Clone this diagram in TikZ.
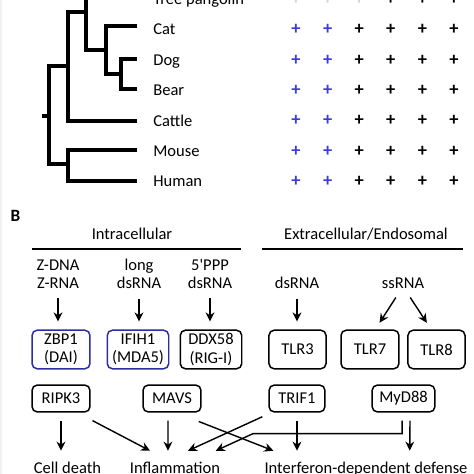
\documentclass[tikz,border=0pt]{standalone}
\usepackage{fontspec}
\setmainfont{Carlito}
\usetikzlibrary{arrows.meta,positioning}
\definecolor{recblue}{RGB}{45,45,160}
\definecolor{plusblue}{RGB}{60,60,215}
\tikzset{
  branch/.style={line width=1.9pt},
  leaf/.style={anchor=base west,inner sep=0pt},
  plusmark/.style={inner sep=0pt,font=\fontsize{10.5}{11}\selectfont\bfseries},
  sensor/.style={draw,rounded corners=3pt,line width=0.85pt,minimum width=33pt,minimum height=22pt,inner sep=0pt,align=center},
  adaptor/.style={draw,rounded corners=3pt,line width=0.85pt,minimum width=33pt,minimum height=15.3pt,inner sep=0pt},
  ligand/.style={align=center},
  outcome/.style={anchor=base,inner xsep=0pt,inner ysep=6pt,text height=6.75pt},
  arr/.style={-{Stealth[length=5.2pt,width=5pt]},line width=0.8pt}
}
\begin{document}
\begin{tikzpicture}[x=0.02cm,y=-0.02cm,font=\fontsize{9.4}{10.3}\selectfont]
  \path[use as bounding box] (0,0) rectangle (474,474);
  \clip (0,0) rectangle (474,474);
  \fill[gray!10] (0,0) rectangle (2.5,474);

  % A: tree
  \draw[branch] (42,116) -- (49,116);
  \draw[branch] (68,66) -| (49,164) -- (68,164);
  \draw[branch] (86,12) -| (68,121) -- (137,121);
  \draw[branch] (106,50) -| (86,-20);
  \draw[branch] (137,26) -| (106,74) -- (121,74);
  \draw[branch] (137,59) -| (121,89) -- (137,89);
  \draw[branch] (137,150) -| (68,181) -- (137,181);

  \foreach \sp/\name [count=\i from 0] in {Tree pangolin/pangolin,Cat/cat,Dog/dog,Bear/bear,Cattle/cattle,Mouse/mouse,Human/human}
    \node[leaf] (\name) at (153,{4.4+30.4*\i}) {\sp};

  \foreach \c in {1,2,3}
    \node[plusmark,gray!35] (p0\c) at ({264.4+31.6*\c},-0.9) {+};
  \foreach \c in {4,5,6}
    \node[plusmark] (p0\c) at ({264.4+31.6*\c},-0.9) {+};
  \foreach \r in {1,...,6} {
    \foreach \c in {1,2}
      \node[plusmark,plusblue] (p\r\c) at ({264.4+31.6*\c},{-0.9+30.4*\r}) {+};
    \foreach \c in {3,...,6}
      \node[plusmark] (p\r\c) at ({264.4+31.6*\c},{-0.9+30.4*\r}) {+};
  }

  % B: sensors
  \node[font=\fontsize{9.8}{11}\selectfont\bfseries] (panelB) at (15.5,216) {B};
  \node (intra) at (132,234) {Intracellular};
  \node (extra) at (366,234) {Extracellular/Endosomal};
  \draw[line width=0.8pt] (32,249) -- (241,249);
  \draw[line width=0.8pt] (262,249) -- (463,249);

  \node[ligand] (zdna) at (58,274) {Z-DNA\\Z-RNA};
  \node[ligand] (longds) at (139,274) {long\\dsRNA};
  \node[ligand] (pppds) at (210,274) {5\textquotesingle PPP\\dsRNA};
  \node (dsrna) at (297,283) {dsRNA};
  \node (ssrna) at (403,283) {ssRNA};

  \node[sensor,draw=recblue] (zbp1) at (61,349.5) {ZBP1\\(DAI)};
  \node[sensor,draw=recblue,minimum width=35pt] (ifih1) at (138,349.5) {IFIH1\\(MDA5)};
  \node[sensor,minimum width=35pt] (ddx58) at (211,349.5) {DDX58\\(RIG-I)};
  \node[sensor,minimum width=32.5pt] (tlr3) at (297.5,349.5) {TLR3};
  \node[sensor] (tlr7) at (370,349.5) {TLR7};
  \node[sensor,minimum width=32.5pt] (tlr8) at (436.5,349.5) {TLR8};

  \node[adaptor] (ripk3) at (61,398.5) {RIPK3};
  \node[adaptor] (mavs) at (172,398.5) {MAVS};
  \node[adaptor,minimum width=31.8pt] (trif) at (297,398.5) {TRIF1};
  \node[adaptor,minimum width=35.7pt] (myd88) at (403.5,398.5) {MyD88};

  \node[outcome] (death) at (67.5,473.5) {Cell death};
  \node[outcome] (inflam) at (175,473.5) {Inflammation};
  \node[outcome] (ifn) at (366,473.5) {Interferon-dependent defense};

  \foreach \a/\b in {zdna/zbp1,longds/ifih1,pppds/ddx58,dsrna/tlr3}
    \draw[arr,shorten <=2pt,shorten >=4.5pt] (\a.south) -- (\a.south |- \b.north);
  \draw[arr,shorten <=2pt,shorten >=4.5pt] ([xshift=-3pt]ssrna.south) -- ([xshift=3pt]tlr7.north);
  \draw[arr,shorten <=2pt,shorten >=4.5pt] ([xshift=3pt]ssrna.south) -- ([xshift=-3pt]tlr8.north);

  \draw[arr] ([yshift=-4.5pt]ripk3.south) -- (ripk3.south |- death.north);
  \draw[arr] ([shift={(1pt,-4.5pt)}]ripk3.south east) -- ([xshift=-14.2pt]inflam.north);
  \draw[arr] ([shift={(-2.3pt,-4.5pt)}]mavs.south) -- ([xshift=-4pt]inflam.north);
  \draw[arr] ([shift={(-1.7pt,-5pt)}]mavs.south east) -- ([xshift=-52.7pt]ifn.north);
  \draw[arr] ([shift={(-3.4pt,-2.3pt)}]trif.south west) -- ([xshift=7.4pt]inflam.north);
  \draw[arr] ([yshift=-4.5pt]trif.south) -- (trif.south |- ifn.north);
  \draw[arr] ([shift={(-0.8pt,-4.5pt)}]myd88.south) -- ++(0,13) -- ++(-149,0) -- ([xshift=23.2pt]inflam.north);
  \draw[arr] ([shift={(3.7pt,-4.5pt)}]myd88.south) -- ([xshift=24.9pt]ifn.north);
\end{tikzpicture}
\end{document}
